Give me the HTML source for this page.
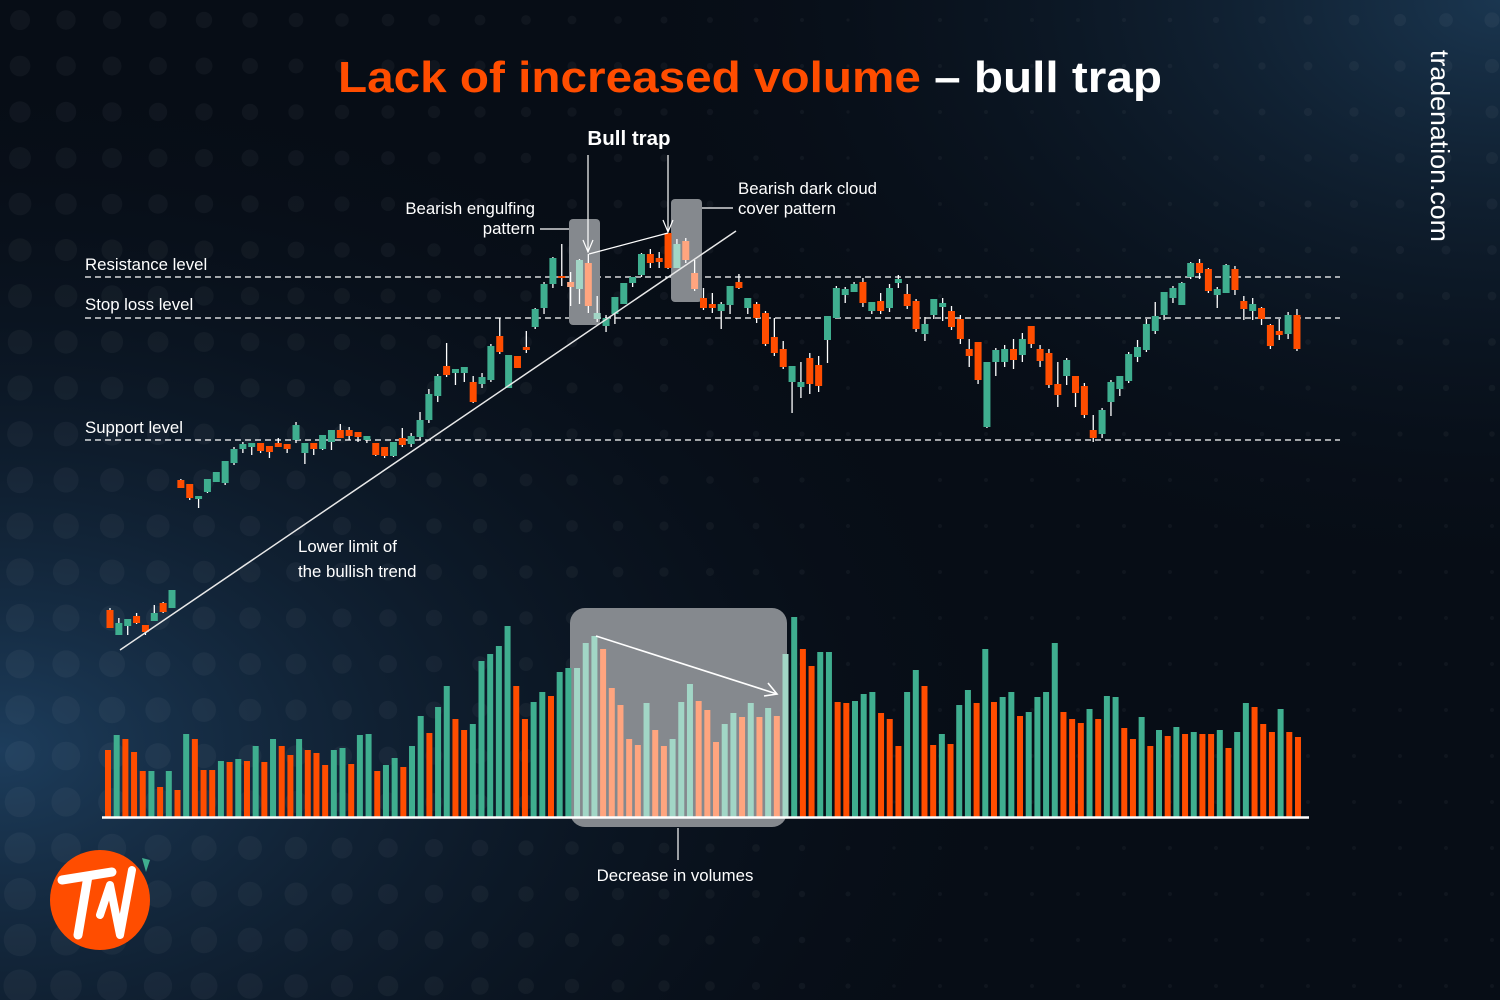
<!DOCTYPE html>
<html><head><meta charset="utf-8"><style>
html,body{margin:0;padding:0;background:#070d16;}
svg{display:block;font-family:"Liberation Sans",sans-serif;}
</style></head><body>
<svg id="chart" width="1500" height="1000" viewBox="0 0 1500 1000">
<defs>
<radialGradient id="bgL" cx="0" cy="0.75" r="0.7"><stop offset="0" stop-color="#1d3d5c"/><stop offset="1" stop-color="#070d16" stop-opacity="0"/></radialGradient>
<radialGradient id="bgR" cx="1" cy="0" r="0.6"><stop offset="0" stop-color="#1a3650"/><stop offset="1" stop-color="#070d16" stop-opacity="0"/></radialGradient>
</defs>
<rect width="1500" height="1000" fill="#070d16"/>
<rect width="1500" height="1000" fill="url(#bgL)"/>
<rect width="1500" height="1000" fill="url(#bgR)"/>
<g id="dots"></g>

<text x="750" y="92" text-anchor="middle" font-size="44" font-weight="bold" textLength="824" lengthAdjust="spacingAndGlyphs"><tspan fill="#ff4d00">Lack of increased volume</tspan><tspan fill="#ffffff"> – bull trap</tspan></text>
<text x="1431" y="50" transform="rotate(90 1431 50)" font-size="26" fill="#ffffff" textLength="192" lengthAdjust="spacingAndGlyphs">tradenation.com</text>

<g id="levels">
<line x1="85" y1="277" x2="1340" y2="277" stroke="#fff" stroke-width="1.2" stroke-dasharray="6,4"/>
<line x1="85" y1="318" x2="1340" y2="318" stroke="#fff" stroke-width="1.2" stroke-dasharray="6,4"/>
<line x1="85" y1="440" x2="1340" y2="440" stroke="#fff" stroke-width="1.2" stroke-dasharray="6,4"/>
<text x="85" y="270" font-size="16.8" fill="#fff">Resistance level</text>
<text x="85" y="310" font-size="16.8" fill="#fff">Stop loss level</text>
<text x="85" y="433" font-size="16.8" fill="#fff">Support level</text>
</g>

<rect x="569" y="219" width="31" height="106" rx="4" fill="#85898e"/>
<rect x="671" y="199" width="31" height="103" rx="4" fill="#85898e"/>
<rect x="570" y="608" width="217" height="219" rx="15" fill="#85898e"/>

<g id="candles"></g>
<g id="volumes"></g>
<line x1="102" y1="817.5" x2="1309" y2="817.5" stroke="#fff" stroke-width="2.5"/>

<line x1="120" y1="650" x2="736" y2="231" stroke="#e8e8e8" stroke-width="1.5"/>
<text x="298" y="552" font-size="16.8" fill="#fff">Lower limit of</text>
<text x="298" y="577" font-size="16.8" fill="#fff">the bullish trend</text>

<g stroke="#fff" stroke-width="1.2" fill="none">
<line x1="540" y1="229" x2="569" y2="229"/>
<line x1="702" y1="208" x2="733" y2="208"/>
<line x1="588" y1="155" x2="588" y2="252"/>
<polyline points="583,240 588,252 593,240"/>
<line x1="668" y1="155" x2="668" y2="232"/>
<polyline points="663,220 668,232 673,220"/>
<line x1="589" y1="254" x2="668" y2="233"/>
<line x1="596" y1="636" x2="777" y2="694" stroke-width="1.6"/>
<polyline points="768,683 777,694 764,696" stroke-width="1.6"/>
<line x1="678" y1="828" x2="678" y2="860"/>
</g>
<text x="629" y="145" text-anchor="middle" font-size="20.5" font-weight="bold" fill="#fff">Bull trap</text>
<text x="535" y="214" text-anchor="end" font-size="16.8" fill="#fff">Bearish engulfing</text>
<text x="535" y="234" text-anchor="end" font-size="16.8" fill="#fff">pattern</text>
<text x="738" y="194" font-size="16.8" fill="#fff">Bearish dark cloud</text>
<text x="738" y="214" font-size="16.8" fill="#fff">cover pattern</text>
<text x="675" y="881" text-anchor="middle" font-size="16.8" fill="#fff">Decrease in volumes</text>

<g>
<polygon points="142,858 150,860 146,872" fill="#3fae8f"/>
<circle cx="100" cy="900" r="50" fill="#ff4d00"/>
<polyline points="62,880 112,872" stroke="#fff" stroke-width="9" fill="none" stroke-linecap="round"/>
<polyline points="88,876 78,935" stroke="#fff" stroke-width="9" fill="none" stroke-linecap="round"/>
<polyline points="100,915 110,885 120,935 132,870" stroke="#fff" stroke-width="8" fill="none" stroke-linejoin="round" stroke-linecap="round"/>
</g>
</svg>
<script>
// Candle data (price units; higher = higher price)
const opens  = [90,65,74,84,75,79,97,92,220,216,201,208,218,217,237,251,253,257,254,257,256,260,247,257,251,258,270,270,268,260,257,253,244,262,256,263,280,304,334,327,327,318,316,320,364,312,344,353,373,392,416,424,418,411,437,381,374,386,396,417,425,446,442,467,432,459,427,402,396,389,395,418,392,396,387,363,351,318,313,342,335,360,382,405,408,418,389,399,392,417,406,399,366,385,393,389,381,351,358,273,338,338,351,345,374,351,347,316,324,324,314,270,266,298,311,319,343,350,369,385,402,395,423,437,431,405,407,431,399,389,392,375,369,366,385];
const highs  = [92,82,81,87,75,95,98,110,221,216,204,221,228,239,253,258,257,257,254,262,256,278,257,257,265,270,276,273,268,264,257,253,258,272,267,288,311,326,357,331,333,324,327,356,382,345,344,369,392,418,443,456,428,441,446,404,385,403,417,423,447,451,448,467,461,462,440,412,407,398,414,426,402,398,389,382,359,334,338,347,344,384,414,413,418,422,398,407,416,425,416,401,383,401,402,394,385,361,358,338,352,355,361,367,374,355,351,338,342,324,317,285,292,320,324,348,360,381,398,408,414,418,438,441,432,413,436,434,404,402,393,376,381,388,391];
const lows   = [72,65,65,76,65,79,87,92,212,200,192,207,218,215,235,247,245,247,242,253,247,257,236,245,250,250,262,260,258,257,244,242,243,253,253,260,277,298,323,315,318,297,312,318,346,312,332,347,371,386,412,414,394,396,387,378,368,376,396,413,423,432,432,431,432,437,409,390,387,371,386,411,386,377,354,344,331,287,302,306,308,337,382,397,408,393,386,386,388,412,391,368,359,381,379,370,356,333,316,272,324,333,331,338,352,333,312,293,315,293,282,258,262,284,304,317,338,348,366,380,397,395,421,421,407,392,407,405,380,380,375,351,360,361,349];
const closes = [72,77,81,77,68,87,88,110,212,202,204,221,228,239,251,256,257,249,248,253,251,275,257,251,265,270,262,264,263,264,245,244,258,255,264,280,306,324,325,331,333,298,323,354,348,345,332,350,391,416,442,422,413,440,394,387,382,403,417,423,446,437,438,432,456,440,411,392,392,396,414,412,402,382,356,347,333,334,318,316,314,384,412,411,416,397,398,389,412,421,394,371,376,401,397,373,361,344,320,338,350,351,340,361,356,339,315,305,340,307,285,262,290,318,324,346,353,376,384,408,412,417,437,427,409,411,435,410,391,396,381,354,365,385,351];
// Volume data
const volumes = [67,82,78,65,46,46,30,46,27,83,78,47,47,56,55,58,56,71,55,78,71,62,78,67,64,52,67,69,53,82,83,46,52,59,50,71,101,84,110,131,98,87,93,156,163,171,191,131,
98,115,125,121,145,149,149,174,181,168,129,112,78,72,114,87,71,78,115,133,116,107,75,93,104,100,114,100,109,101,163,200,168,151,165,165,115,114,116,123,125,104,98,71,125,
147,131,72,83,73,112,127,114,168,115,120,125,101,105,120,125,174,105,98,94,108,98,121,120,89,78,100,71,87,81,90,83,85,83,83,87,69,85,114,110,93,85,108,85,80];
const volDirs = "rgrrrgrgrgrrrgrgrgrgrrgrrrggrggrggrggrggrrgggggr".slice(0,48) + "rggrgggggrrrrrgrrgggrrrggrgrgrggrrggrrgggrrrg" + "grrgrggrgrggrggggrrrgrggrrgrgrgrgrrgrggrrrgrr";

const NS = "http://www.w3.org/2000/svg";
const G = "#3fae8f", R = "#ff4d00", LG = "#a2d6c6", LR = "#ffa57f";
function xCandle(i){ return 110 + i * 8.858; }
function yPrice(p){ return 700 - p; }
function xVol(i){ return 108 + i * 8.686; }
function yVol(v){ return 817 - v; }
const boxes = [[569,600],[671,702]];
function inBox(x){ return boxes.some(b => x >= b[0] && x <= b[1]); }

const cg = document.getElementById('candles');
for (let i = 0; i < opens.length; i++) {
  const x = xCandle(i);
  const up = closes[i] >= opens[i];
  const hl = inBox(x);
  const col = up ? (hl ? LG : G) : (hl ? LR : R);
  const w = document.createElementNS(NS, 'line');
  w.setAttribute('x1', x); w.setAttribute('x2', x);
  w.setAttribute('y1', yPrice(highs[i])); w.setAttribute('y2', yPrice(lows[i]));
  w.setAttribute('stroke', '#ffffff'); w.setAttribute('stroke-width', '1.3');
  
  
  cg.appendChild(w);
  const top = yPrice(Math.max(opens[i], closes[i]));
  const bot = yPrice(Math.min(opens[i], closes[i]));
  const b = document.createElementNS(NS, 'rect');
  b.setAttribute('x', x - 3.5); b.setAttribute('width', 7);
  b.setAttribute('y', top); b.setAttribute('height', Math.max(2, bot - top));
  b.setAttribute('fill', col);
  
  
  cg.appendChild(b);
}

const vg = document.getElementById('volumes');
for (let i = 0; i < volumes.length; i++) {
  const x = xVol(i);
  const hl = x >= 572 && x <= 786;
  const up = volDirs[i] === 'g';
  const r = document.createElementNS(NS, 'rect');
  r.setAttribute('x', x - 3); r.setAttribute('width', 6);
  r.setAttribute('y', yVol(volumes[i])); r.setAttribute('height', volumes[i]);
  r.setAttribute('fill', up ? (hl ? LG : G) : (hl ? LR : R));
  
  
  vg.appendChild(r);
}

const dg = document.getElementById('dots');
for (let y = 20; y < 1000; y += 46) {
  for (let x = 20; x < 1500; x += 46) {
    let rad;
    if (x < 900) rad = 17 * (1 - x / 1000) * (0.6 + 0.4 * y / 1000);
    else rad = 2 + 6 * Math.max(0, (x - 1150) / 350) * Math.max(0, 1 - y / 500);
    if (rad < 1.5) continue;
    const c = document.createElementNS(NS, 'circle');
    c.setAttribute('cx', x); c.setAttribute('cy', y); c.setAttribute('r', rad.toFixed(1));
    c.setAttribute('fill', '#ffffff'); c.setAttribute('opacity', '0.04');
    
    
    dg.appendChild(c);
  }
}
</script>
</body></html>
